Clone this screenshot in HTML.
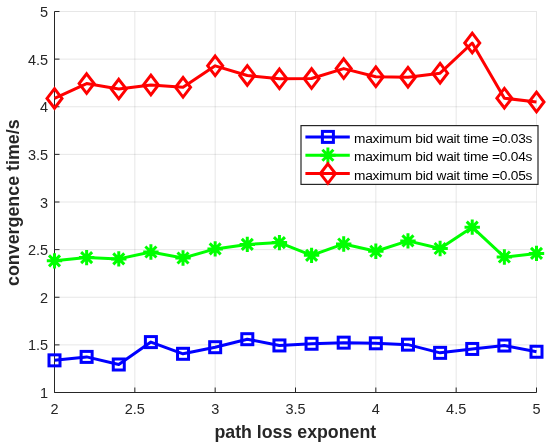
<!DOCTYPE html><html><head><meta charset="utf-8"><style>html,body{margin:0;padding:0;background:#fff;width:550px;height:447px;overflow:hidden}</style></head><body><svg width="550" height="447" viewBox="0 0 550 447" style="display:block">
<rect width="550" height="447" fill="#fff"/>
<path d="M54.5 11.5V392.5M134.83 11.5V392.5M215.17 11.5V392.5M295.5 11.5V392.5M375.83 11.5V392.5M456.17 11.5V392.5M536.5 11.5V392.5M54.5 392.5H536.5M54.5 344.88H536.5M54.5 297.25H536.5M54.5 249.62H536.5M54.5 202.0H536.5M54.5 154.38H536.5M54.5 106.75H536.5M54.5 59.12H536.5M54.5 11.5H536.5" stroke="#262626" stroke-opacity="0.11" stroke-width="1" fill="none"/>
<path d="M54.5 11.5V392.5H536.5M54.5 392.5v-5M134.83 392.5v-5M215.17 392.5v-5M295.5 392.5v-5M375.83 392.5v-5M456.17 392.5v-5M536.5 392.5v-5M54.5 392.5h5M54.5 344.88h5M54.5 297.25h5M54.5 249.62h5M54.5 202.0h5M54.5 154.38h5M54.5 106.75h5M54.5 59.12h5M54.5 11.5h5" stroke="#262626" stroke-width="1" fill="none"/>
<polyline points="54.50,360.35 86.63,356.90 118.77,364.50 150.90,342.10 183.03,353.80 215.17,347.20 247.30,339.20 279.43,345.45 311.57,343.75 343.70,342.65 375.83,343.30 407.97,344.65 440.10,352.85 472.23,348.95 504.37,345.55 536.50,351.75" fill="none" stroke="#0000ff" stroke-width="3" stroke-linejoin="round"/>
<rect x="49.00" y="354.85" width="11.0" height="11.0" fill="none" stroke="#0000ff" stroke-width="3"/>
<rect x="81.13" y="351.40" width="11.0" height="11.0" fill="none" stroke="#0000ff" stroke-width="3"/>
<rect x="113.27" y="359.00" width="11.0" height="11.0" fill="none" stroke="#0000ff" stroke-width="3"/>
<rect x="145.40" y="336.60" width="11.0" height="11.0" fill="none" stroke="#0000ff" stroke-width="3"/>
<rect x="177.53" y="348.30" width="11.0" height="11.0" fill="none" stroke="#0000ff" stroke-width="3"/>
<rect x="209.67" y="341.70" width="11.0" height="11.0" fill="none" stroke="#0000ff" stroke-width="3"/>
<rect x="241.80" y="333.70" width="11.0" height="11.0" fill="none" stroke="#0000ff" stroke-width="3"/>
<rect x="273.93" y="339.95" width="11.0" height="11.0" fill="none" stroke="#0000ff" stroke-width="3"/>
<rect x="306.07" y="338.25" width="11.0" height="11.0" fill="none" stroke="#0000ff" stroke-width="3"/>
<rect x="338.20" y="337.15" width="11.0" height="11.0" fill="none" stroke="#0000ff" stroke-width="3"/>
<rect x="370.33" y="337.80" width="11.0" height="11.0" fill="none" stroke="#0000ff" stroke-width="3"/>
<rect x="402.47" y="339.15" width="11.0" height="11.0" fill="none" stroke="#0000ff" stroke-width="3"/>
<rect x="434.60" y="347.35" width="11.0" height="11.0" fill="none" stroke="#0000ff" stroke-width="3"/>
<rect x="466.73" y="343.45" width="11.0" height="11.0" fill="none" stroke="#0000ff" stroke-width="3"/>
<rect x="498.87" y="340.05" width="11.0" height="11.0" fill="none" stroke="#0000ff" stroke-width="3"/>
<rect x="531.00" y="346.25" width="11.0" height="11.0" fill="none" stroke="#0000ff" stroke-width="3"/>
<polyline points="54.50,260.85 86.63,257.60 118.77,258.90 150.90,252.00 183.03,258.05 215.17,248.90 247.30,244.40 279.43,242.60 311.57,255.35 343.70,243.95 375.83,251.30 407.97,240.90 440.10,248.45 472.23,227.15 504.37,257.05 536.50,253.40" fill="none" stroke="#00ff00" stroke-width="3" stroke-linejoin="round"/>
<path d="M46.80 260.85h15.4M54.50 253.15v15.4M49.00 255.35l11.0 11.0M49.00 266.35l11.0 -11.0" stroke="#00ff00" stroke-width="3" fill="none"/>
<path d="M78.93 257.60h15.4M86.63 249.90v15.4M81.13 252.10l11.0 11.0M81.13 263.10l11.0 -11.0" stroke="#00ff00" stroke-width="3" fill="none"/>
<path d="M111.07 258.90h15.4M118.77 251.20v15.4M113.27 253.40l11.0 11.0M113.27 264.40l11.0 -11.0" stroke="#00ff00" stroke-width="3" fill="none"/>
<path d="M143.20 252.00h15.4M150.90 244.30v15.4M145.40 246.50l11.0 11.0M145.40 257.50l11.0 -11.0" stroke="#00ff00" stroke-width="3" fill="none"/>
<path d="M175.33 258.05h15.4M183.03 250.35v15.4M177.53 252.55l11.0 11.0M177.53 263.55l11.0 -11.0" stroke="#00ff00" stroke-width="3" fill="none"/>
<path d="M207.47 248.90h15.4M215.17 241.20v15.4M209.67 243.40l11.0 11.0M209.67 254.40l11.0 -11.0" stroke="#00ff00" stroke-width="3" fill="none"/>
<path d="M239.60 244.40h15.4M247.30 236.70v15.4M241.80 238.90l11.0 11.0M241.80 249.90l11.0 -11.0" stroke="#00ff00" stroke-width="3" fill="none"/>
<path d="M271.73 242.60h15.4M279.43 234.90v15.4M273.93 237.10l11.0 11.0M273.93 248.10l11.0 -11.0" stroke="#00ff00" stroke-width="3" fill="none"/>
<path d="M303.87 255.35h15.4M311.57 247.65v15.4M306.07 249.85l11.0 11.0M306.07 260.85l11.0 -11.0" stroke="#00ff00" stroke-width="3" fill="none"/>
<path d="M336.00 243.95h15.4M343.70 236.25v15.4M338.20 238.45l11.0 11.0M338.20 249.45l11.0 -11.0" stroke="#00ff00" stroke-width="3" fill="none"/>
<path d="M368.13 251.30h15.4M375.83 243.60v15.4M370.33 245.80l11.0 11.0M370.33 256.80l11.0 -11.0" stroke="#00ff00" stroke-width="3" fill="none"/>
<path d="M400.27 240.90h15.4M407.97 233.20v15.4M402.47 235.40l11.0 11.0M402.47 246.40l11.0 -11.0" stroke="#00ff00" stroke-width="3" fill="none"/>
<path d="M432.40 248.45h15.4M440.10 240.75v15.4M434.60 242.95l11.0 11.0M434.60 253.95l11.0 -11.0" stroke="#00ff00" stroke-width="3" fill="none"/>
<path d="M464.53 227.15h15.4M472.23 219.45v15.4M466.73 221.65l11.0 11.0M466.73 232.65l11.0 -11.0" stroke="#00ff00" stroke-width="3" fill="none"/>
<path d="M496.67 257.05h15.4M504.37 249.35v15.4M498.87 251.55l11.0 11.0M498.87 262.55l11.0 -11.0" stroke="#00ff00" stroke-width="3" fill="none"/>
<path d="M528.80 253.40h15.4M536.50 245.70v15.4M531.00 247.90l11.0 11.0M531.00 258.90l11.0 -11.0" stroke="#00ff00" stroke-width="3" fill="none"/>
<polyline points="54.50,98.40 86.63,83.60 118.77,89.10 150.90,85.00 183.03,87.30 215.17,65.85 247.30,75.45 279.43,78.85 311.57,78.55 343.70,68.60 375.83,76.75 407.97,77.20 440.10,73.15 472.23,43.00 504.37,98.20 536.50,102.00" fill="none" stroke="#ff0000" stroke-width="3" stroke-linejoin="round"/>
<path d="M54.50 88.60L62.00 98.40L54.50 108.20L47.00 98.40Z" stroke="#ff0000" stroke-width="3" fill="none" stroke-miterlimit="10"/>
<path d="M86.63 73.80L94.13 83.60L86.63 93.40L79.13 83.60Z" stroke="#ff0000" stroke-width="3" fill="none" stroke-miterlimit="10"/>
<path d="M118.77 79.30L126.27 89.10L118.77 98.90L111.27 89.10Z" stroke="#ff0000" stroke-width="3" fill="none" stroke-miterlimit="10"/>
<path d="M150.90 75.20L158.40 85.00L150.90 94.80L143.40 85.00Z" stroke="#ff0000" stroke-width="3" fill="none" stroke-miterlimit="10"/>
<path d="M183.03 77.50L190.53 87.30L183.03 97.10L175.53 87.30Z" stroke="#ff0000" stroke-width="3" fill="none" stroke-miterlimit="10"/>
<path d="M215.17 56.05L222.67 65.85L215.17 75.65L207.67 65.85Z" stroke="#ff0000" stroke-width="3" fill="none" stroke-miterlimit="10"/>
<path d="M247.30 65.65L254.80 75.45L247.30 85.25L239.80 75.45Z" stroke="#ff0000" stroke-width="3" fill="none" stroke-miterlimit="10"/>
<path d="M279.43 69.05L286.93 78.85L279.43 88.65L271.93 78.85Z" stroke="#ff0000" stroke-width="3" fill="none" stroke-miterlimit="10"/>
<path d="M311.57 68.75L319.07 78.55L311.57 88.35L304.07 78.55Z" stroke="#ff0000" stroke-width="3" fill="none" stroke-miterlimit="10"/>
<path d="M343.70 58.80L351.20 68.60L343.70 78.40L336.20 68.60Z" stroke="#ff0000" stroke-width="3" fill="none" stroke-miterlimit="10"/>
<path d="M375.83 66.95L383.33 76.75L375.83 86.55L368.33 76.75Z" stroke="#ff0000" stroke-width="3" fill="none" stroke-miterlimit="10"/>
<path d="M407.97 67.40L415.47 77.20L407.97 87.00L400.47 77.20Z" stroke="#ff0000" stroke-width="3" fill="none" stroke-miterlimit="10"/>
<path d="M440.10 63.35L447.60 73.15L440.10 82.95L432.60 73.15Z" stroke="#ff0000" stroke-width="3" fill="none" stroke-miterlimit="10"/>
<path d="M472.23 33.20L479.73 43.00L472.23 52.80L464.73 43.00Z" stroke="#ff0000" stroke-width="3" fill="none" stroke-miterlimit="10"/>
<path d="M504.37 88.40L511.87 98.20L504.37 108.00L496.87 98.20Z" stroke="#ff0000" stroke-width="3" fill="none" stroke-miterlimit="10"/>
<path d="M536.50 92.20L544.00 102.00L536.50 111.80L529.00 102.00Z" stroke="#ff0000" stroke-width="3" fill="none" stroke-miterlimit="10"/>
<g font-family="Liberation Sans, Arial, Helvetica, sans-serif" font-size="14.5" fill="#262626"><text x="54.50" y="413.8" text-anchor="middle">2</text><text x="134.83" y="413.8" text-anchor="middle">2.5</text><text x="215.17" y="413.8" text-anchor="middle">3</text><text x="295.50" y="413.8" text-anchor="middle">3.5</text><text x="375.83" y="413.8" text-anchor="middle">4</text><text x="456.17" y="413.8" text-anchor="middle">4.5</text><text x="536.50" y="413.8" text-anchor="middle">5</text><text x="48.1" y="398.10" text-anchor="end">1</text><text x="48.1" y="350.48" text-anchor="end">1.5</text><text x="48.1" y="302.85" text-anchor="end">2</text><text x="48.1" y="255.22" text-anchor="end">2.5</text><text x="48.1" y="207.60" text-anchor="end">3</text><text x="48.1" y="159.97" text-anchor="end">3.5</text><text x="48.1" y="112.35" text-anchor="end">4</text><text x="48.1" y="64.72" text-anchor="end">4.5</text><text x="48.1" y="17.10" text-anchor="end">5</text></g>
<text x="295.3" y="437.7" text-anchor="middle" font-family="Liberation Sans, Arial, Helvetica, sans-serif" font-size="17.75" font-weight="bold" fill="#262626">path loss exponent</text>
<text transform="translate(18.8 202.7) rotate(-90)" x="0" y="0" text-anchor="middle" font-family="Liberation Sans, Arial, Helvetica, sans-serif" font-size="17.85" font-weight="bold" fill="#262626">convergence time/s</text>
<rect x="301" y="125.6" width="237" height="58.8" fill="#fff" stroke="#262626" stroke-width="1.2"/>
<path d="M305.4 136.9H349.8" stroke="#0000ff" stroke-width="3"/>
<rect x="322.40" y="131.40" width="11.0" height="11.0" fill="none" stroke="#0000ff" stroke-width="3"/>
<text x="354" y="142.5" font-family="Liberation Sans, Arial, Helvetica, sans-serif" font-size="13.7" textLength="178.4" lengthAdjust="spacing" fill="#000">maximum bid wait time =0.03s</text>
<path d="M305.4 155.2H349.8" stroke="#00ff00" stroke-width="3"/>
<path d="M320.20 155.20h15.4M327.90 147.50v15.4M322.40 149.70l11.0 11.0M322.40 160.70l11.0 -11.0" stroke="#00ff00" stroke-width="3" fill="none"/>
<text x="354" y="161.0" font-family="Liberation Sans, Arial, Helvetica, sans-serif" font-size="13.7" textLength="178.4" lengthAdjust="spacing" fill="#000">maximum bid wait time =0.04s</text>
<path d="M305.4 173.6H349.8" stroke="#ff0000" stroke-width="3"/>
<path d="M327.90 163.80L335.40 173.60L327.90 183.40L320.40 173.60Z" stroke="#ff0000" stroke-width="3" fill="none" stroke-miterlimit="10"/>
<text x="354" y="179.7" font-family="Liberation Sans, Arial, Helvetica, sans-serif" font-size="13.7" textLength="178.4" lengthAdjust="spacing" fill="#000">maximum bid wait time =0.05s</text>
</svg></body></html>
